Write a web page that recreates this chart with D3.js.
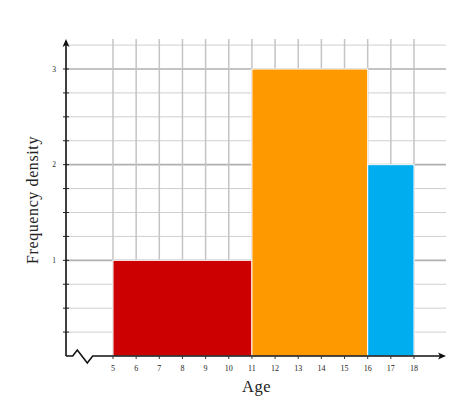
<!DOCTYPE html>
<html><head><meta charset="utf-8">
<script src="https://cdn.jsdelivr.net/npm/d3@7"></script>
<style>body{margin:0;background:#fff}svg{display:block}</style>
</head><body>
<svg id="c" width="474" height="402"></svg>
<script>
const binStarts = [5, 11, 16];
const binEnds = [11, 16, 18];
const densities = [1, 3, 2];
const barColors = ["#cc0000", "#ff9900", "#00aeef"];
const xTicks = [5,6,7,8,9,10,11,12,13,14,15,16,17,18];
const yTicks = [1,2,3];

const svg = d3.select("#c");
const x = d3.scaleLinear().domain([5, 18]).range([113, 414]);
const y = d3.scaleLinear().domain([0, 3]).range([356, 69]);
const axisX = 66, gridRight = 446;
const font = "'Liberation Serif', 'DejaVu Serif', serif";

// grid
const g = svg.append("g");
const minor = d3.range(0.25, 3.26, 0.25);
g.selectAll("line.h").data(minor).join("line")
  .attr("x1", axisX).attr("x2", gridRight)
  .attr("y1", d => y(d)).attr("y2", d => y(d))
  .attr("stroke", d => Math.abs(d - Math.round(d)) < 1e-6 ? "#b0b0b0" : "#cfcfcf")
  .attr("stroke-width", d => Math.abs(d - Math.round(d)) < 1e-6 ? 1.6 : 1);
g.selectAll("line.v").data(xTicks).join("line")
  .attr("x1", d => x(d)).attr("x2", d => x(d))
  .attr("y1", 39).attr("y2", 356)
  .attr("stroke", "#c4c4c4").attr("stroke-width", 1.5);

// bars
svg.selectAll("rect.bar").data(densities).join("rect")
  .attr("x", (d, i) => x(binStarts[i]))
  .attr("width", (d, i) => x(binEnds[i]) - x(binStarts[i]))
  .attr("y", d => y(d))
  .attr("height", d => y(0) - y(d))
  .attr("fill", (d, i) => barColors[i])
  .attr("stroke", "#fff").attr("stroke-width", 1);

// y axis
svg.append("line").attr("x1", axisX).attr("x2", axisX).attr("y1", 356).attr("y2", 44)
  .attr("stroke", "#111").attr("stroke-width", 1.6);
svg.append("path").attr("d", `M${axisX},39 L${axisX-3.5},47 L${axisX},45 L${axisX+3.5},47 Z`).attr("fill", "#111");
svg.selectAll("line.yt").data(minor.filter(d => d < 3.1)).join("line")
  .attr("x1", axisX - 3).attr("x2", axisX + 3)
  .attr("y1", d => y(d)).attr("y2", d => y(d))
  .attr("stroke", "#222").attr("stroke-width", 1);
svg.selectAll("text.yl").data(yTicks).join("text")
  .attr("x", axisX - 10).attr("y", d => y(d) + 2.5)
  .attr("text-anchor", "end").attr("font-family", font).attr("font-size", 7.5)
  .attr("fill", "#222").text(d => d);

// x axis with break
const by = y(0);
svg.append("path")
  .attr("d", `M${axisX},${by} L72.7,${by} L77.3,350 L87.3,363 L92.7,${by} L440,${by}`)
  .attr("fill", "none").attr("stroke", "#111").attr("stroke-width", 1.6);
svg.append("path").attr("d", `M446,${by} L438,${by-3.5} L440,${by} L438,${by+3.5} Z`).attr("fill", "#111");
svg.selectAll("line.xt").data(xTicks).join("line")
  .attr("x1", d => x(d)).attr("x2", d => x(d))
  .attr("y1", by).attr("y2", by + 3)
  .attr("stroke", "#333").attr("stroke-width", 1);
svg.selectAll("text.xl").data(xTicks).join("text")
  .attr("x", d => x(d)).attr("y", 371)
  .attr("text-anchor", "middle").attr("font-family", font).attr("font-size", 8)
  .attr("fill", "#222").text(d => d);

// labels
svg.append("text").attr("x", x(11.2)).attr("y", 392)
  .attr("text-anchor", "middle").attr("font-family", font).attr("font-size", 16.5)
  .attr("letter-spacing", 0.5)
  .attr("fill", "#222").text("Age");
svg.append("text").attr("transform", "translate(38,200) rotate(-90)")
  .attr("text-anchor", "middle").attr("font-family", font).attr("font-size", 16)
  .attr("letter-spacing", 0.6)
  .attr("fill", "#222").text("Frequency density");
</script>
</body></html>
